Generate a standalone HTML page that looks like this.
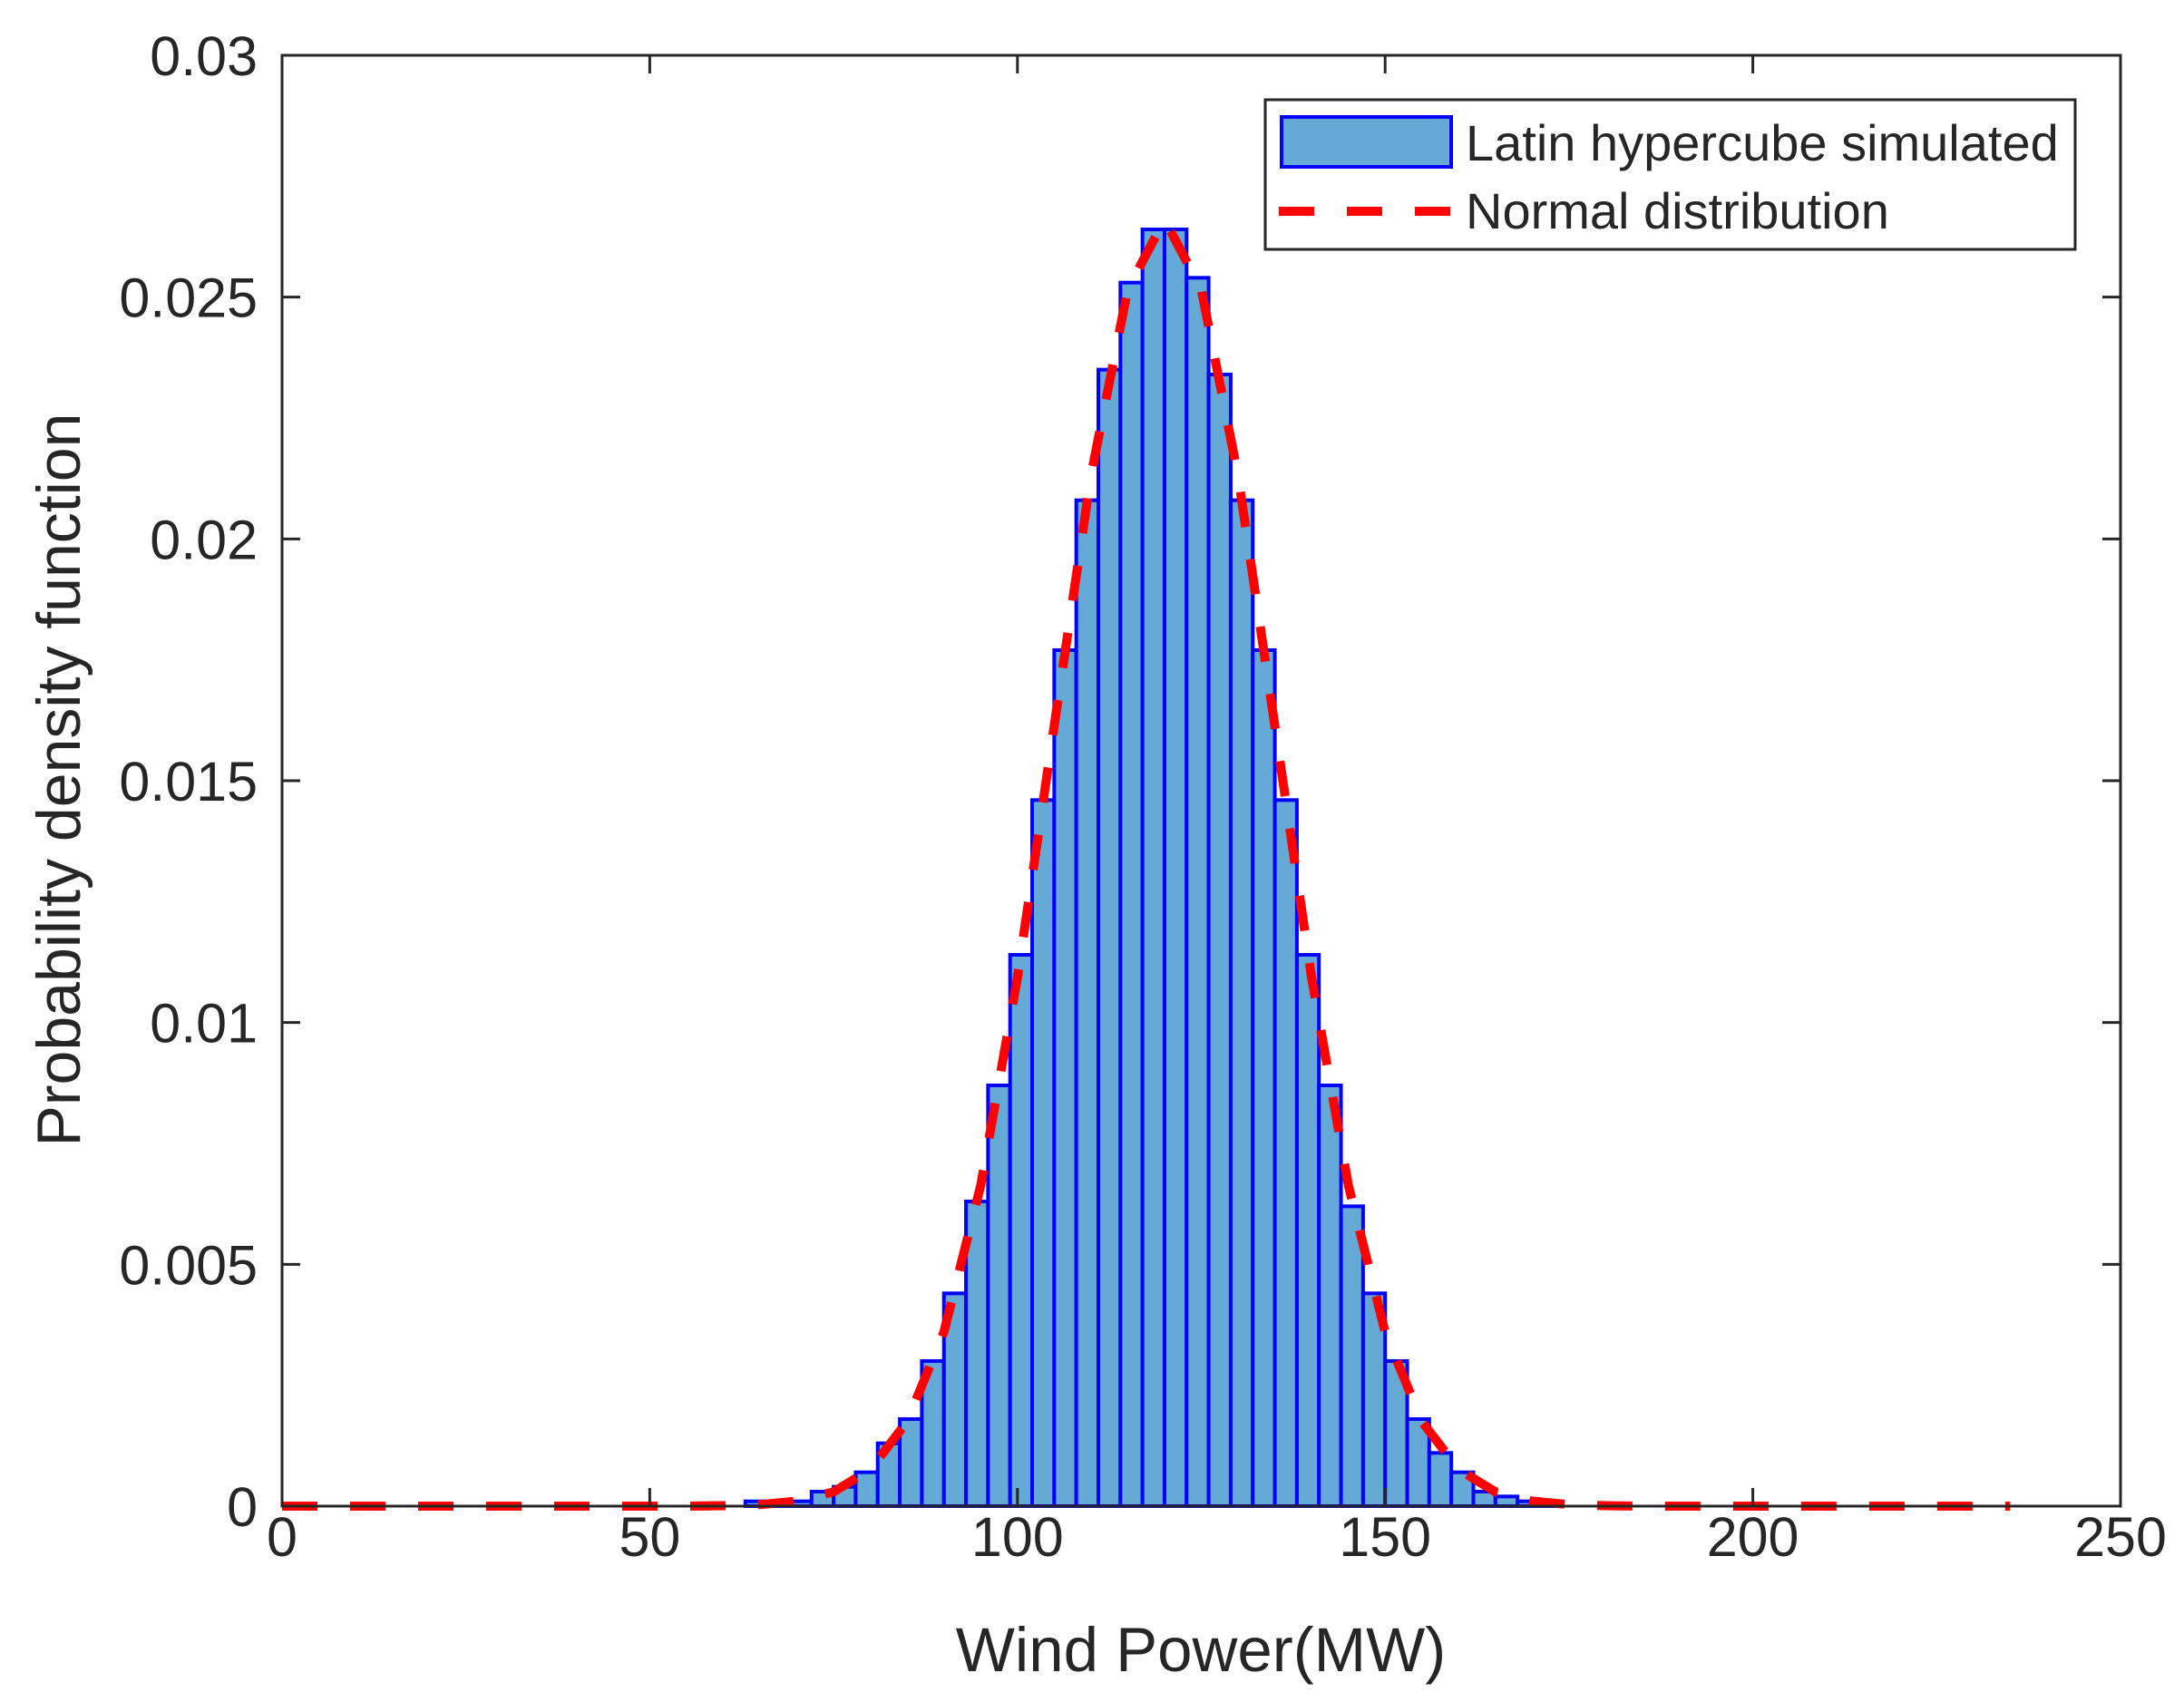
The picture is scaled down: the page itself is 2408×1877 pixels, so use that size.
<!DOCTYPE html>
<html><head><meta charset="utf-8"><style>
html,body{margin:0;padding:0;background:#fff;}
svg{display:block;font-family:"Liberation Sans",Arial,sans-serif;}
</style></head><body>
<svg id="chart" width="2408" height="1877" viewBox="0 0 2408 1877" xmlns="http://www.w3.org/2000/svg">
<rect width="2408" height="1877" fill="#fff"/>
<g id="bars"></g>
<g id="curve"></g>
<g id="axes"></g>
<text x="1324" y="1843" font-size="69" text-anchor="middle" fill="#262626">Wind Power(MW)</text>
<text transform="translate(88,860) rotate(-90)" font-size="68" text-anchor="middle" fill="#262626">Probability density function</text>
<g>
<rect x="1395" y="110" width="893" height="165" fill="#fff" stroke="#262626" stroke-width="3"/>
<rect x="1413" y="129" width="187" height="55" fill="#65A9D7" stroke="#0000FF" stroke-width="4"/>
<text x="1616" y="177" font-size="56" fill="#262626">Latin hypercube simulated</text>
<line x1="1410" y1="233" x2="1600" y2="233" stroke="#FF0000" stroke-width="10" stroke-dasharray="39,36"/>
<text x="1616" y="252" font-size="56" fill="#262626">Normal distribution</text>
</g>
</svg>
<script>
const binEdgesStart = [63,66,69,72,75,78,81,84,87,90,93,96,99,102,105,108,111,114,117,120,123,126,129,132,135,138,141,144,147,150,153,156,159,162,165,168,171];
const binValues = [0.0001,0.0001,0.0001,0.0003,0.0004,0.0007,0.0013,0.0018,0.0030,0.0044,0.0063,0.0087,0.0114,0.0146,0.0177,0.0208,0.0235,0.0253,0.0264,0.0264,0.0254,0.0234,0.0208,0.0177,0.0146,0.0114,0.0087,0.0062,0.0044,0.0030,0.0018,0.0011,0.0007,0.0003,0.0002,0.0001,0.0001];
const binWidth = 3;
const curveX = [0,5,10,15,20,25,30,35,40,45,50,55,60,65,70,75,80,85,90,95,100,105,110,115,120,125,130,135,140,145,150,155,160,165,170,175,180,185,190,195,200,205,210,215,220,225,230,235];
const curveY = [0,0,0,0,0,0,0,0,0,0,0,0,0.00001,0.000032,0.000103,0.000295,0.00076,0.00175,0.0036,0.00663,0.01093,0.01613,0.02131,0.02516,0.0266,0.02516,0.02131,0.01613,0.01093,0.00663,0.0036,0.00175,0.00076,0.000295,0.000103,0.000032,0.00001,0,0,0,0,0,0,0,0,0,0,0];
const xTicks = [0,50,100,150,200,250];
const yTicks = [0,0.005,0.01,0.015,0.02,0.025,0.03];
const yTickLabels = ["0","0.005","0.01","0.015","0.02","0.025","0.03"];

const L=311,R=2338,T=61,B=1661;
const xs = v => L + (v/250)*(R-L);
const ys = v => B - (v/0.03)*(B-T);
const NS="http://www.w3.org/2000/svg";
function mk(tag, attrs, parent){const e=document.createElementNS(NS,tag);for(const k in attrs)e.setAttribute(k,attrs[k]);parent.appendChild(e);return e;}

const gb=document.getElementById('bars');
binEdgesStart.forEach((x0,i)=>{
  const v=binValues[i];
  const r=mk('rect',{x:xs(x0),y:ys(v),width:xs(x0+binWidth)-xs(x0),height:B-ys(v),fill:'#65A9D7',stroke:'#0000FF','stroke-width':4},gb);
  
  
});

const gc=document.getElementById('curve');
const d=curveX.map((x,i)=>(i?'L':'M')+xs(x).toFixed(1)+','+ys(curveY[i]).toFixed(1)).join(' ');
const p=mk('path',{d:d,fill:'none',stroke:'#FF0000','stroke-width':10,'stroke-dasharray':'39,36','stroke-linejoin':'round'},gc);



const ga=document.getElementById('axes');
const box=mk('rect',{x:L,y:T,width:R-L,height:B-T,fill:'none',stroke:'#262626','stroke-width':3},ga);


xTicks.forEach(v=>{
  const x=xs(v);
  mk('line',{x1:x,y1:B,x2:x,y2:B-20,stroke:'#262626','stroke-width':3},ga);
  mk('line',{x1:x,y1:T,x2:x,y2:T+20,stroke:'#262626','stroke-width':3},ga);
  const t=mk('text',{x:x,y:1716,'font-size':61,'text-anchor':'middle',fill:'#262626'},ga);
  t.textContent=String(v);
  
  
});
yTicks.forEach((v,i)=>{
  const y=ys(v);
  mk('line',{x1:L,y1:y,x2:L+20,y2:y,stroke:'#262626','stroke-width':3},ga);
  mk('line',{x1:R,y1:y,x2:R-20,y2:y,stroke:'#262626','stroke-width':3},ga);
  const t=mk('text',{x:284,y:y+22,'font-size':61,'text-anchor':'end',fill:'#262626'},ga);
  t.textContent=yTickLabels[i];
  
  
});
</script>
</body></html>
